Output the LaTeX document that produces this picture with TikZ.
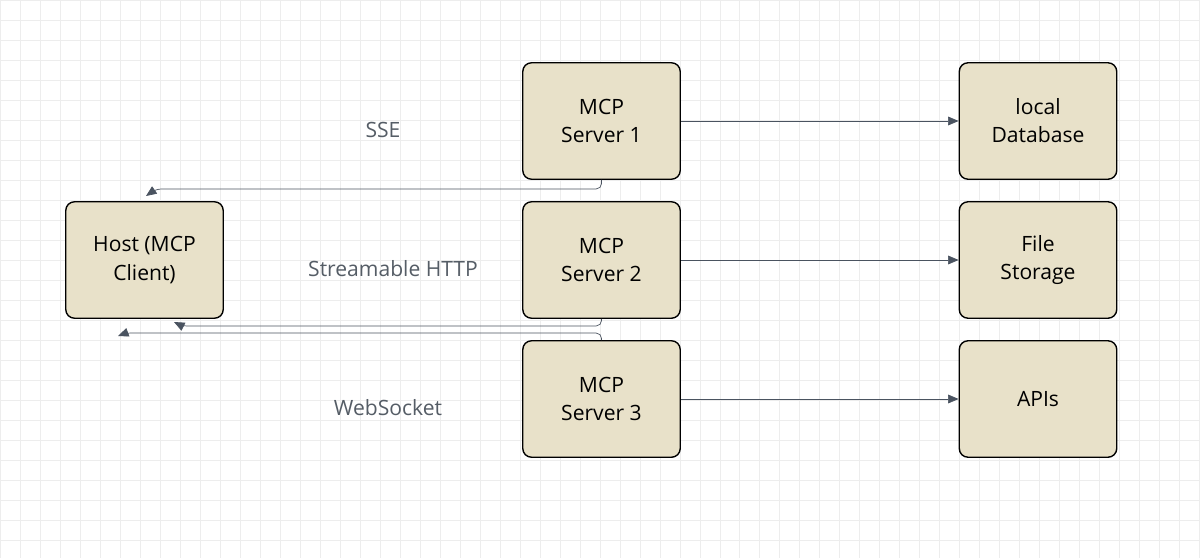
\documentclass[tikz,border=0pt]{standalone}
\usepackage{fontspec}
\setmainfont{Open Sans}
\usetikzlibrary{arrows.meta}
\definecolor{boxfill}{HTML}{E8E1C9}
\definecolor{labelgray}{HTML}{555D66}
\definecolor{linegray}{HTML}{4A5360}
\tikzset{
  box/.style={draw=black, thick, fill=boxfill, rounded corners=5pt, minimum width=3.15cm, minimum height=2.33cm, align=center, font=\fontsize{12}{16}\selectfont},
  link/.style={linegray, -{Triangle[width=5pt,length=6pt]}},
  back/.style={linegray, rounded corners=3pt, -{Triangle[width=5pt,length=6pt]}},
  tag/.style={labelgray, font=\fontsize{12}{15}\selectfont}
}
\begin{document}
\begin{tikzpicture}[x=0.02cm, y=-0.02cm]
    % canvas and grid
    \fill[white] (0,0) rectangle (1200,558);
    \useasboundingbox (0,0) rectangle (1200,558);
    \draw[black!7, step=0.4cm] (0,0) grid (1200,558);

    % boxes
    \node[box] (host) at (144.5,260) {Host (MCP\\Client)};
    \node[box] (s1) at (601.5,121) {MCP\\Server 1};
    \node[box] (s2) at (601.5,260) {MCP\\Server 2};
    \node[box] (s3) at (601.5,399) {MCP\\Server 3};
    \node[box] (db) at (1038,121) {local\\Database};
    \node[box] (fs) at (1038,260) {File\\Storage};
    \node[box] (api) at (1038,399) {APIs};

    % protocol labels
    \node[tag] (sse) at (383,130) {SSE};
    \node[tag] (http) at (393,269) {Streamable HTTP};
    \node[tag] (ws) at (388,408) {WebSocket};

    % server to resource links
    \draw[link] (s1) -- (db);
    \draw[link] (s2) -- (fs);
    \draw[link] (s3) -- (api);

    % replies back to the host
    \coordinate (h1) at (146,196);
    \coordinate (h2) at (174,322);
    \coordinate (h3) at (118,336);
    \draw[back] (s1.south) -- ++(0,9) -- (156,189) -- (h1);
    \draw[back] (s2.south) -- ++(0,7) -- (182,326) -- (h2);
    \draw[back] (s3.north) -- ++(0,-7) -- (126,333) -- (h3);
\end{tikzpicture}
\end{document}
